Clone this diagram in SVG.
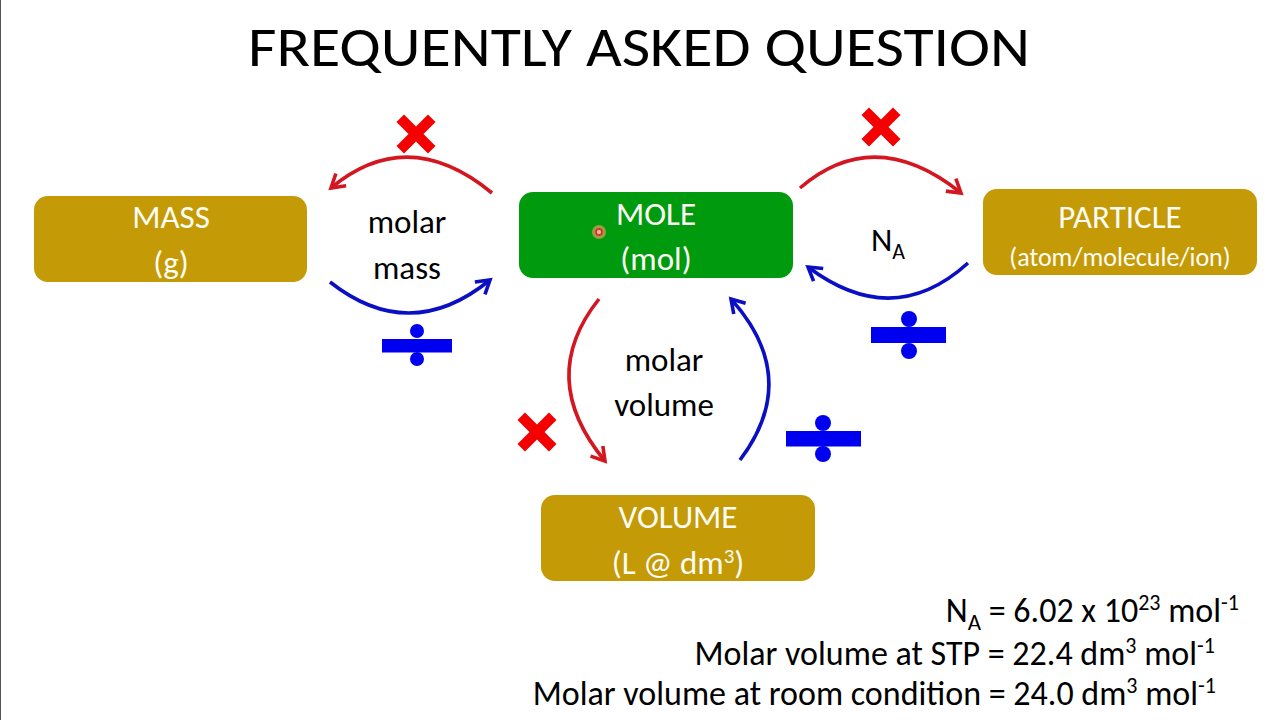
<svg xmlns="http://www.w3.org/2000/svg" width="1280" height="720" viewBox="0 0 1280 720">
<style>
text{font-family:Carlito,Lato,"Open Sans","Liberation Sans",sans-serif;fill:#000}
.n{font-size:33px;fill:#fdfdf5;text-anchor:middle}
.l{font-size:33px;text-anchor:middle}
.b{font-size:34px;text-anchor:end}
.gold{fill:#c49a06}
.red{fill:none;stroke:#d3161f;stroke-width:3.6;marker-end:url(#ar)}
.blue{fill:none;stroke:#0a0fc4;stroke-width:3.6;marker-end:url(#ab)}
.x{fill:#f40000}
.d{fill:#0000f0}
</style>
<defs>
<marker id="ar" markerUnits="userSpaceOnUse" markerWidth="24" markerHeight="24" refX="20" refY="12" orient="auto" overflow="visible"><path d="M7 4L20 12L7 20" fill="none" stroke="#d3161f" stroke-width="3.6"/></marker>
<marker id="ab" markerUnits="userSpaceOnUse" markerWidth="24" markerHeight="24" refX="20" refY="12" orient="auto" overflow="visible"><path d="M7 4L20 12L7 20" fill="none" stroke="#0a0fc4" stroke-width="3.6"/></marker>
<path id="cross" d="M-12 -19.5L0 -7.5L12 -19.5L19.5 -12L7.5 0L19.5 12L12 19.5L0 7.5L-12 19.5L-19.5 12L-7.5 0L-19.5 -12Z"/>
</defs>
<rect width="1280" height="720" fill="#fff"/>
<rect x="0" y="0" width="1" height="720" fill="#555"/>
<text id="title" x="639" y="66" font-size="56" text-anchor="middle" textLength="782" lengthAdjust="spacingAndGlyphs">FREQUENTLY ASKED QUESTION</text>
<g id="connectors">
<path class="red" d="M492 193Q408 124 331 188"/>
<path class="blue" d="M330 282Q410 345 490 280"/>
<path class="red" d="M800 188Q875 124 961 193"/>
<path class="blue" d="M968 263Q893 331 808 267"/>
<path class="red" d="M599 299Q536 378 605 461"/>
<path class="blue" d="M740 460Q802 378 731 299"/>
</g>
<g id="mass"><rect class="gold" x="34" y="196" width="273" height="86" rx="14"/><text class="n" x="171" y="228">MASS</text><text class="n" x="171" y="274">(g)</text></g>
<g id="mole"><rect fill="#009a0e" x="519" y="192" width="274" height="86" rx="14"/><text class="n" x="656" y="225">MOLE</text><text class="n" x="656" y="270">(mol)</text></g>
<g id="particle"><rect class="gold" x="983" y="189" width="274" height="86" rx="14"/><text class="n" x="1120" y="228">PARTICLE</text><text class="n" x="1120" y="266" font-size="26" style="font-size:26px">(atom/molecule/ion)</text></g>
<g id="volume"><rect class="gold" x="541" y="495" width="274" height="86" rx="14"/><text class="n" x="678" y="528">VOLUME</text><text class="n" x="678" y="574">(L @ dm<tspan font-size="21" dy="-11">3</tspan><tspan dy="11">)</tspan></text></g>
<g id="pointer"><circle cx="599" cy="232" r="7" fill="#d9a05a" opacity=".7"/><circle cx="599" cy="232" r="3" fill="#f5b0a0" stroke="#e02020" stroke-width="1.5"/></g>
<g id="labels">
<text class="l" x="407" y="233">molar</text><text class="l" x="407" y="279">mass</text>
<text class="l" x="664" y="371">molar</text><text class="l" x="664" y="416">volume</text>
<text x="871" y="251" font-size="33">N<tspan font-size="22" dy="8">A</tspan></text>
</g>
<g id="ops">
<use href="#cross" class="x" x="416" y="134"/>
<use href="#cross" class="x" x="881" y="127"/>
<use href="#cross" class="x" x="537" y="432"/>
<g class="d"><rect x="382" y="339" width="70" height="13.500"/><circle cx="417" cy="331" r="7"/><circle cx="417" cy="359" r="7"/></g>
<g class="d"><rect x="871" y="327" width="75" height="16"/><circle cx="909" cy="319" r="8"/><circle cx="909" cy="351" r="8"/></g>
<g class="d"><rect x="786" y="431" width="75" height="15.500"/><circle cx="823" cy="423" r="8"/><circle cx="823" cy="454" r="8"/></g>
</g>
<g id="notes">
<text class="b" x="1239" y="622">N<tspan font-size="23" dy="8">A</tspan><tspan dy="-8"> = 6.02 x 10</tspan><tspan font-size="22" dy="-12">23</tspan><tspan dy="12"> mol</tspan><tspan font-size="22" dy="-12">-1</tspan></text>
<text class="b" x="1215" y="665">Molar volume at STP = 22.4 dm<tspan font-size="22" dy="-12">3</tspan><tspan dy="12"> mol</tspan><tspan font-size="22" dy="-12">-1</tspan></text>
<text class="b" x="1216" y="705">Molar volume at room condition = 24.0 dm<tspan font-size="22" dy="-12">3</tspan><tspan dy="12"> mol</tspan><tspan font-size="22" dy="-12">-1</tspan></text>
</g>
</svg>
